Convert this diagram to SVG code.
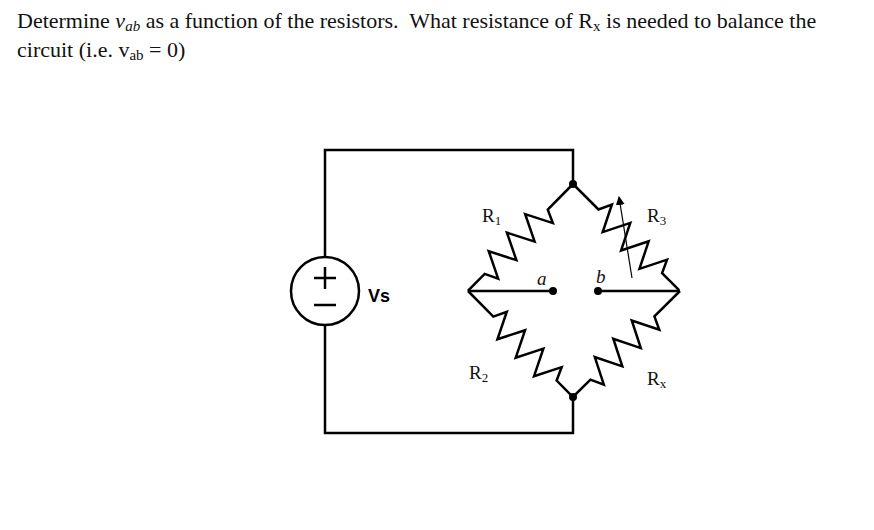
<svg xmlns="http://www.w3.org/2000/svg" width="874" height="530" viewBox="0 0 874 530">
<style>
.t{font-family:"Liberation Serif",serif;font-size:22px;fill:#111}
.w{fill:none;stroke:#000;stroke-width:2.5;stroke-linejoin:miter}
.l{font-family:"Liberation Serif",serif;font-size:19px;fill:#111}
</style>
<defs>
<path id="res" class="w" d="M0,0 L36,0 l6,-13 l13,26 l13,-26 l13,26 l13,-26 l13,26 l13,-26 l6,13 L150,0"/>
<marker id="ah" markerWidth="9" markerHeight="9" refX="8" refY="4.5" orient="auto" markerUnits="userSpaceOnUse"><path d="M0,0 L9,4.5 L0,9 z" fill="#000"/></marker>
</defs>
<rect width="874" height="530" fill="#fff"/>
<text class="t" x="17" y="28">Determine <tspan font-style="italic">v<tspan font-size="15" dy="3">ab</tspan></tspan><tspan dy="-3"> as a function of the resistors.&#160; What resistance of R</tspan><tspan font-size="15" dy="3">x</tspan><tspan dy="-3"> is needed to balance the</tspan></text>
<text class="t" x="17" y="57">circuit (i.e. v<tspan font-size="15" dy="3">ab</tspan><tspan dy="-3"> = 0)</tspan></text>
<g id="connectors">
<path class="w" d="M325,257 V150 H573 V184"/>
<path class="w" d="M325,325 V433 H573 V397"/>
<path class="w" d="M468,291 H553"/>
<path class="w" d="M598,291 H680"/>
<line x1="632" y1="278" x2="619" y2="197" stroke="#000" stroke-width="1.2" marker-end="url(#ah)"/>
</g>
<g id="Vs">
<circle cx="325" cy="291" r="34" fill="none" stroke="#000" stroke-width="2.5"/>
<path d="M314,278 H336 M325,267 V289 M314,305 H336" stroke="#000" stroke-width="2.5"/>
<text x="368" y="302" font-family="Liberation Sans,Arial,sans-serif" font-weight="bold" font-size="18">Vs</text>
</g>
<g id="R1"><use href="#res" transform="translate(573,184) rotate(134.5)"/><text class="l" x="482" y="222">R<tspan font-size="13" dy="3">1</tspan></text></g>
<g id="R2"><use href="#res" transform="translate(468,291) rotate(45.3)"/><text class="l" x="469" y="379">R<tspan font-size="13" dy="3">2</tspan></text></g>
<g id="R3"><use href="#res" transform="translate(573,184) rotate(45)"/><text class="l" x="647" y="222">R<tspan font-size="13" dy="3">3</tspan></text></g>
<g id="Rx"><use href="#res" transform="translate(680,291) rotate(135.3)"/><text class="l" x="647" y="385">R<tspan font-size="13" dy="3">x</tspan></text></g>
<g id="nodes">
<circle cx="573" cy="184" r="4"/><circle cx="573" cy="397" r="4"/>
<circle cx="553" cy="291" r="4"/><circle cx="598" cy="291" r="4"/>
<text class="l" x="537" y="285" font-style="italic">a</text>
<text class="l" x="596" y="283" font-style="italic">b</text>
</g>
</svg>
